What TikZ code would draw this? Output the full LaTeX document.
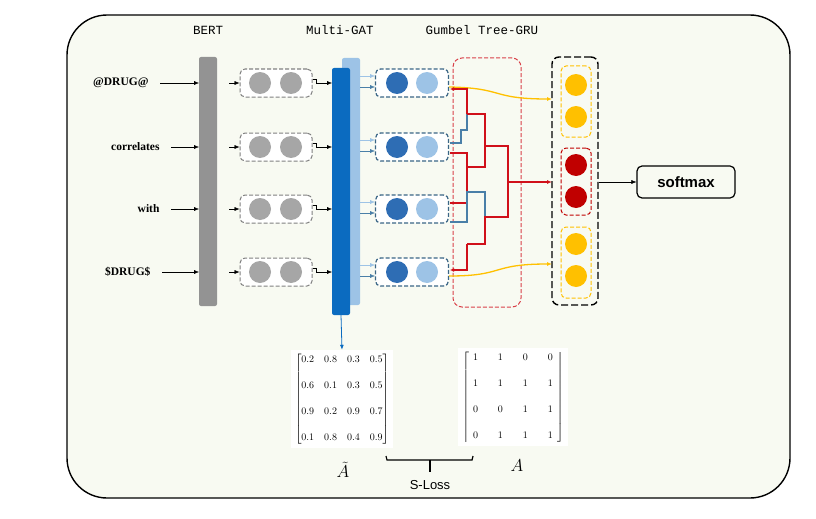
\documentclass[tikz,border=0pt]{standalone}
\usepackage{fontspec}
\usepackage{amsmath}
\setmainfont{Liberation Serif}
\newfontfamily\monof{Liberation Mono}
\newfontfamily\sansf{Liberation Sans}
\usetikzlibrary{arrows.meta}
\definecolor{bg}{HTML}{F8FAF2}
\definecolor{gcirc}{HTML}{A6A6A6}
\definecolor{dblue}{HTML}{2E6DB4}
\definecolor{lblue}{HTML}{9DC3E6}
\definecolor{gatd}{HTML}{0B6BC0}
\definecolor{gatl}{HTML}{9DC3E6}
\definecolor{tblue}{HTML}{4A7FA8}
\definecolor{tred}{HTML}{D0101A}
\definecolor{yel}{HTML}{FFC000}
\definecolor{dred}{HTML}{C00000}
\begin{document}
\begin{tikzpicture}[x=1pt,y=-1pt,
  word/.style={font=\bfseries\fontsize{11.5}{13}\selectfont},
  title/.style={font=\monof\fontsize{12.5}{14}\selectfont},
  gbox/.style={draw=gray,dashed,line width=1pt,dash pattern=on 4pt off 2pt,rounded corners=5pt,fill=white,minimum width=72pt,minimum height=28pt},
  bbox/.style={draw=tblue!80!black,line width=1.2pt,dash pattern=on 4pt off 2pt,rounded corners=5pt,fill=white,minimum width=73pt,minimum height=28pt},
  circ/.style={circle,minimum size=22pt,inner sep=0pt},
  arr/.style={-{Latex[length=5pt,width=4pt]}},
  tr/.style={tred,line width=1.8pt},
  tb/.style={tblue,line width=1.8pt},
  mat/.style={font=\fontsize{10}{12}\selectfont}
]
\useasboundingbox (0,0) rectangle (816,519);
\draw[line width=1.4pt,fill=bg,rounded corners=40pt] (67,15) rectangle (790,498);
% titles
\node[title] (tb1) at (208,30) {BERT};
\node[title] (tb2) at (340,30) {Multi-GAT};
\node[title] (tb3) at (482,30) {Gumbel Tree-GRU};
% BERT bar
\node[fill=gray!85,rounded corners=2pt,minimum width=18pt,minimum height=249pt,inner sep=0] (bert) at (208,181.5) {};
% GAT bars
\node[fill=gatl,rounded corners=2pt,minimum width=18pt,minimum height=247pt,inner sep=0] (gatL) at (351,181.5) {};
\node[fill=gatd,rounded corners=2pt,minimum width=18pt,minimum height=247pt,inner sep=0] (gatD) at (341,191.5) {};
% words
\foreach \i/\w/\y/\xe in {1/@DRUG@/83/152,2/correlates/147/163,3/with/209/163,4/\$DRUG\$/272/154}{
  \node[word,anchor=east] (w\i) at (\xe,\y) {\w};
  \coordinate (bi\i) at (199,\y);
  \draw[arr] (w\i.east) ++(8,0) -- (bi\i);
  \node[gbox] (g\i) at (276,\y) {};
  \node[circ,fill=gcirc] (gc\i a) at (260,\y) {};
  \node[circ,fill=gcirc] (gc\i b) at (291,\y) {};
  \coordinate (bo\i) at (217,\y);
  \draw[arr] (bo\i) ++(12,0) -- (g\i.west);
  \coordinate (ga\i) at (332,\y);
  \draw[arr] (g\i.east) ++(0,-4) -- ++(4,0) |- (ga\i);
  \node[bbox] (b\i) at (412,\y) {};
  \node[circ,fill=dblue] (bc\i a) at (397,\y) {};
  \node[circ,fill=lblue] (bc\i b) at (427,\y) {};
  \coordinate (bl\i) at (375,\y-7);
  \coordinate (bd\i) at (375,\y+4);
  \draw[arr,lblue] (360,\y-7) -- (bl\i);
  \draw[arr,tblue] (360,\y+4) -- (bd\i);
}
% gumbel dashed box
\node[draw=tred!80,line width=1pt,dash pattern=on 4pt off 2pt,rounded corners=9pt,minimum width=68pt,minimum height=249pt] (gum) at (487,182.5) {};
% output box
\node[draw=black,line width=1.4pt,dash pattern=on 7pt off 3pt,rounded corners=7pt,minimum width=46pt,minimum height=248pt] (out) at (575,181) {};
\node[draw=yel,line width=1pt,dash pattern=on 4pt off 2pt,rounded corners=5pt,minimum width=30pt,minimum height=71pt] (y1) at (576,101.5) {};
\node[draw=dred,line width=1pt,dash pattern=on 4pt off 2pt,rounded corners=5pt,minimum width=30pt,minimum height=67pt] (r1) at (576,181.5) {};
\node[draw=yel,line width=1pt,dash pattern=on 4pt off 2pt,rounded corners=5pt,minimum width=30pt,minimum height=71pt] (y2) at (576,262.5) {};
\node[circ,fill=yel] (yc1) at (576,85) {};
\node[circ,fill=yel] (yc2) at (576,117) {};
\node[circ,fill=dred] (rc1) at (576,165) {};
\node[circ,fill=dred] (rc2) at (576,197) {};
\node[circ,fill=yel] (yc3) at (576,244) {};
\node[circ,fill=yel] (yc4) at (576,276) {};
% yellow curves
\coordinate (yi1) at (552,99);
\coordinate (yi2) at (552,264);
\draw[yel,line width=1.3pt,arr] (b1.east) ++(0,4) .. controls (505,88) and (490,99) .. (yi1);
\draw[yel,line width=1.3pt,arr] (b4.east) ++(0,4) .. controls (505,276) and (490,264) .. (yi2);
% tree
\draw[tr,{Latex[length=4pt,width=4pt]}-] (450,89) -- (467,89) -- (467,114);
\draw[tb] (450,143) -- (461,143) -- (461,130) -- (467,130) -- (467,114);
\draw[tr] (467,114) -- (485,114) -- (485,146);
\draw[tr] (450,153) -- (467,153) -- (467,203) -- (450,203);
\draw[tr] (467,167) -- (485,167) -- (485,146);
\draw[tb] (450,222) -- (467,222) -- (467,192) -- (485,192) -- (485,217);
\draw[tr] (485,146) -- (508,146) -- (508,217) -- (485,217) -- (485,244) -- (467,244);
\draw[tr,-{Latex[length=4pt,width=4pt]}] (467,244) -- (467,270) -- (450,270);
\coordinate (ri) at (552,182);
\draw[tr,arr] (508,182) -- (ri);
% softmax
\node[draw,line width=1.2pt,rounded corners=5pt,minimum width=98pt,minimum height=32pt,font=\sansf\bfseries\fontsize{15}{17}\selectfont] (sm) at (686,182) {softmax};
\draw[arr] (out.east |- sm) -- (sm.west);
% matrices
\node[fill=white,inner sep=4pt,mat] (m1) at (342,399) {$\left[\begin{array}{@{}c@{\hspace{10pt}}c@{\hspace{10pt}}c@{\hspace{10pt}}c@{}}
0.2&0.8&0.3&0.5\\[14pt]0.6&0.1&0.3&0.5\\[14pt]0.9&0.2&0.9&0.7\\[14pt]0.1&0.8&0.4&0.9\end{array}\right]$};
\node[fill=white,inner sep=4pt,mat] (m2) at (513,397) {$\left\lceil\begin{array}{@{\hspace{4pt}}c@{\hspace{20pt}}c@{\hspace{20pt}}c@{\hspace{20pt}}c@{\hspace{4pt}}}
1&1&0&0\\[14pt]1&1&1&1\\[14pt]0&0&1&1\\[14pt]0&1&1&1\end{array}\right\rfloor$};
\draw[arr,gatd,thick] (gatD.south) -- (m1.north);
\node[font=\fontsize{16}{18}\selectfont] (la1) at (343,470) {$\tilde{A}$};
\node[font=\fontsize{16}{18}\selectfont] (la2) at (517,466) {$A$};
\draw[line width=1.2pt] (386,456) -- (387,460) -- (472,460) -- (473,456);
\draw[line width=1.2pt] (430,460) -- (430,472);
\node[font=\sansf\fontsize{13}{15}\selectfont] (sl) at (430,485) {S-Loss};
\end{tikzpicture}
\end{document}
